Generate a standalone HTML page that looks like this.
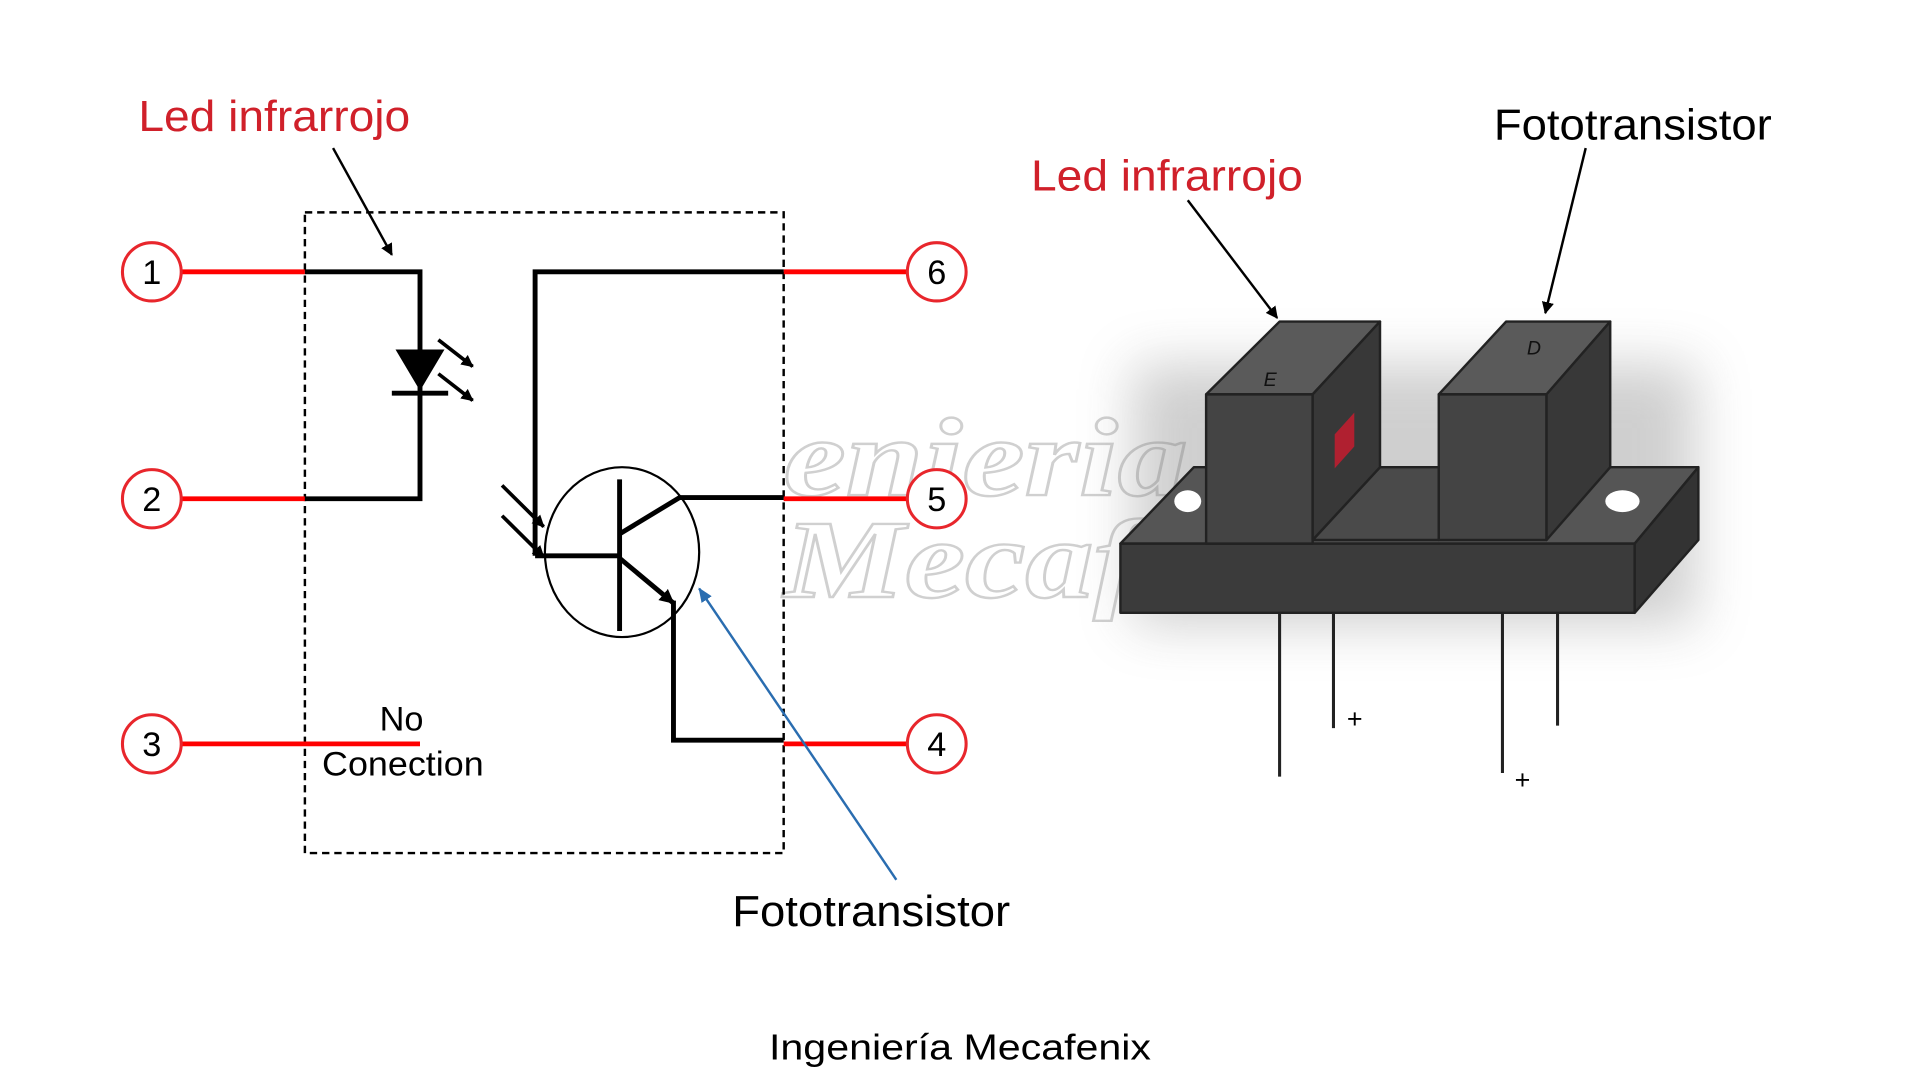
<!DOCTYPE html>
<html><head><meta charset="utf-8"><style>html,body{margin:0;padding:0;background:#fff;width:1920px;height:1080px;overflow:hidden}</style></head>
<body>
<svg width="1920" height="1080" viewBox="0 0 1568 890" preserveAspectRatio="none" xmlns="http://www.w3.org/2000/svg">
<defs>
<marker id="ab" markerWidth="10" markerHeight="10" refX="9" refY="5" orient="auto" markerUnits="userSpaceOnUse"><path d="M0,0 L10,5 L0,10 z" fill="#000"/></marker>
<marker id="abl" markerWidth="12" markerHeight="12" refX="11" refY="6" orient="auto" markerUnits="userSpaceOnUse"><path d="M0,1 L12,6 L0,11 z" fill="#2a6db0"/></marker>
<marker id="ak" markerWidth="12" markerHeight="12" refX="11" refY="6" orient="auto" markerUnits="userSpaceOnUse"><path d="M0,0 L12,6 L0,12 z" fill="#000"/></marker>
<filter id="sh" x="-30%" y="-30%" width="160%" height="160%"><feGaussianBlur stdDeviation="22"/></filter>
</defs>
<g font-family="Liberation Sans, sans-serif">
<!-- watermark -->
<text x="640" y="408" font-size="92" font-family="Liberation Serif, serif" font-style="italic" font-weight="bold" fill="#fff" stroke="#d0d0d0" stroke-width="2" textLength="330" lengthAdjust="spacingAndGlyphs">enieria</text>
<text x="640" y="492" font-size="92" font-family="Liberation Serif, serif" font-style="italic" font-weight="bold" fill="#fff" stroke="#d0d0d0" stroke-width="2" textLength="290" lengthAdjust="spacingAndGlyphs">Mecaf</text>
<!-- left labels -->
<text x="113" y="108" font-size="36" fill="#d0202a" textLength="222" lengthAdjust="spacingAndGlyphs">Led infrarrojo</text>
<line x1="272" y1="122" x2="320" y2="210" stroke="#000" stroke-width="2" marker-end="url(#ab)"/>
<rect x="249" y="175" width="391" height="528" fill="none" stroke="#000" stroke-width="2" stroke-dasharray="6,4"/>
<g stroke="#f00" stroke-width="4">
<line x1="148" y1="224" x2="249" y2="224"/><line x1="148" y1="411" x2="249" y2="411"/><line x1="148" y1="613" x2="343" y2="613"/>
<line x1="640" y1="224" x2="741" y2="224"/><line x1="640" y1="411" x2="741" y2="411"/><line x1="640" y1="613" x2="741" y2="613"/>
</g>
<g fill="#fff" stroke="#e8262c" stroke-width="2.5">
<circle cx="124" cy="224" r="24"/><circle cx="124" cy="411" r="24"/><circle cx="124" cy="613" r="24"/>
<circle cx="765" cy="224" r="24"/><circle cx="765" cy="411" r="24"/><circle cx="765" cy="613" r="24"/>
</g>
<g font-size="28" fill="#000" text-anchor="middle">
<text x="124" y="234">1</text><text x="124" y="421">2</text><text x="124" y="623">3</text>
<text x="765" y="234">6</text><text x="765" y="421">5</text><text x="765" y="623">4</text>
</g>
<polyline points="249,224 343,224 343,411 249,411" fill="none" stroke="#000" stroke-width="4"/>
<path d="M323,288 L363,288 L343,322 z" fill="#000"/>
<line x1="320" y1="324" x2="366" y2="324" stroke="#000" stroke-width="4"/>
<line x1="358" y1="280" x2="386" y2="302" stroke="#000" stroke-width="3" marker-end="url(#ab)"/>
<line x1="358" y1="308" x2="386" y2="330" stroke="#000" stroke-width="3" marker-end="url(#ab)"/>
<polyline points="640,224 437,224 437,458" fill="none" stroke="#000" stroke-width="4"/>
<ellipse cx="508" cy="455" rx="63" ry="70" fill="none" stroke="#000" stroke-width="1.8"/>
<line x1="437" y1="458" x2="506" y2="458" stroke="#000" stroke-width="4"/>
<line x1="506" y1="395" x2="506" y2="520" stroke="#000" stroke-width="4"/>
<polyline points="506,440 555,410 640,410" fill="none" stroke="#000" stroke-width="4"/>
<line x1="506" y1="460" x2="550" y2="497" stroke="#000" stroke-width="4" marker-end="url(#ak)"/>
<polyline points="550,495 550,610 640,610" fill="none" stroke="#000" stroke-width="4"/>
<line x1="410" y1="400" x2="444" y2="434" stroke="#000" stroke-width="3" marker-end="url(#ab)"/>
<line x1="410" y1="425" x2="444" y2="459" stroke="#000" stroke-width="3" marker-end="url(#ab)"/>
<line x1="732" y1="725" x2="571" y2="485" stroke="#2a6db0" stroke-width="2" marker-end="url(#abl)"/>
<text x="598" y="763" font-size="36" fill="#000" textLength="227" lengthAdjust="spacingAndGlyphs">Fototransistor</text>
<text x="310" y="602" font-size="28" fill="#000">No</text>
<text x="263" y="639" font-size="28" fill="#000" textLength="132" lengthAdjust="spacingAndGlyphs">Conection</text>
<!-- device -->
<rect x="925" y="300" width="460" height="215" fill="#777" opacity="0.35" filter="url(#sh)"/>
<g stroke="#222" stroke-width="2" stroke-linejoin="round">
<polygon points="915,448 975,385 1387,385 1335,448" fill="#555"/>
<rect x="915" y="448" width="420" height="57" fill="#3b3b3b"/>
<polygon points="1335,448 1387,385 1387,445 1335,505" fill="#333"/>
<polygon points="1072,445 1127,385 1175,385 1175,445" fill="#4a4a4a"/>
<polygon points="985,325 1045,265 1127,265 1072,325" fill="#5a5a5a"/>
<rect x="985" y="325" width="87" height="123" fill="#444"/>
<polygon points="1072,325 1127,265 1127,385 1072,445" fill="#383838"/>
<polygon points="1175,325 1230,265 1315,265 1263,325" fill="#5a5a5a"/>
<rect x="1175" y="325" width="88" height="120" fill="#444"/>
<polygon points="1263,325 1315,265 1315,385 1263,445" fill="#383838"/>
</g>
<polygon points="1090,358 1106,340 1106,368 1090,386" fill="#b02030"/>
<ellipse cx="970" cy="413" rx="11" ry="9" fill="#fff"/>
<ellipse cx="1325" cy="413" rx="14" ry="9" fill="#fff"/>
<text x="1032" y="318" font-size="16" fill="#111" font-style="italic">E</text>
<text x="1247" y="292" font-size="16" fill="#111" font-style="italic">D</text>
<g stroke="#222" stroke-width="2.5">
<line x1="1045" y1="505" x2="1045" y2="640"/><line x1="1089" y1="505" x2="1089" y2="600"/>
<line x1="1227" y1="505" x2="1227" y2="637"/><line x1="1272" y1="505" x2="1272" y2="598"/>
</g>
<text x="1100" y="600" font-size="22" fill="#000">+</text>
<text x="1237" y="650" font-size="22" fill="#000">+</text>
<text x="842" y="157" font-size="36" fill="#d0202a" textLength="222" lengthAdjust="spacingAndGlyphs">Led infrarrojo</text>
<text x="1220" y="115" font-size="36" fill="#000" textLength="227" lengthAdjust="spacingAndGlyphs">Fototransistor</text>
<line x1="970" y1="165" x2="1043" y2="262" stroke="#000" stroke-width="2" marker-end="url(#ab)"/>
<line x1="1295" y1="122" x2="1262" y2="258" stroke="#000" stroke-width="2" marker-end="url(#ab)"/>
<text x="784" y="873" font-size="30" fill="#000" text-anchor="middle" textLength="312" lengthAdjust="spacingAndGlyphs">Ingeniería Mecafenix</text>
</g>
</svg>
</body></html>
